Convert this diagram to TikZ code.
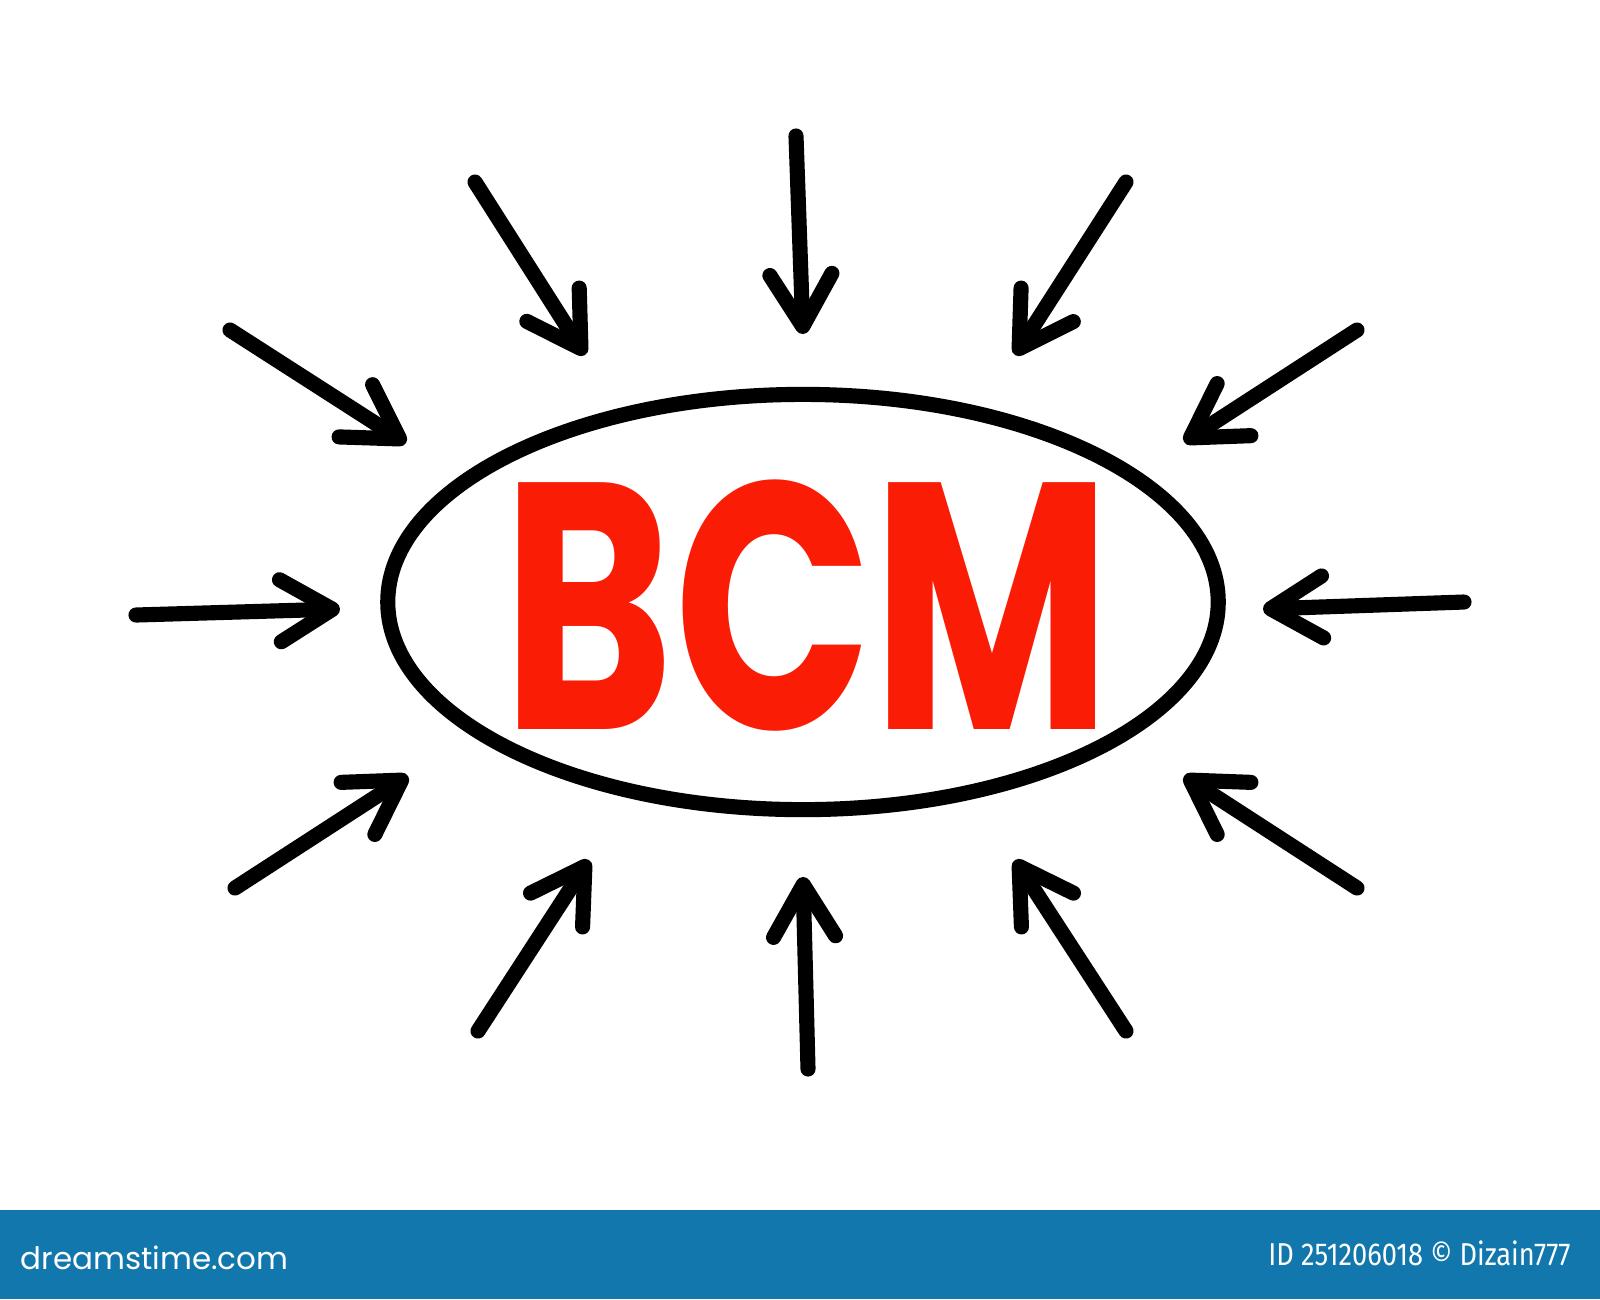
\documentclass[tikz,border=0pt]{standalone}
\usepackage{fontspec}
\usetikzlibrary{arrows.meta,shapes.geometric}
\newfontfamily\bcmfont{Poppins}
\newfontfamily\bannerfont{Fira Sans}
\definecolor{bcmred}{RGB}{250,28,4}
\definecolor{bannerblue}{RGB}{17,119,173}
\tikzset{
  pointer/.style={line width=4.3pt,line cap=round,line join=round,
    -{Straight Barb[length=5.2mm,width=6.2mm,line cap=round,line join=round]}},
  frame/.style={ellipse,draw,line width=4.3pt,minimum width=8.3cm,minimum height=4.15cm,inner sep=0pt},
}
\begin{document}
\begin{tikzpicture}[x=0.01cm,y=-0.01cm]
\useasboundingbox(0,0)rectangle(1600,1299);
% banner
\fill[bannerblue](0,1210)rectangle(1600,1299);
\node[anchor=west,text=white,font=\bcmfont\fontsize{8.8}{11}\selectfont,inner sep=0pt](site) at (20,1258){dreamstime.com};
\node[anchor=east,text=white,font=\bannerfont\fontsize{9}{10}\selectfont,xscale=0.86,inner sep=0pt](credit) at (1571,1253){ID 251206018 © Dizain777};
% ellipse and word
\node[frame](ring) at (803,602){};
\node[text=bcmred,font=\bcmfont\bfseries\fontsize{100}{100}\selectfont,xscale=0.74,inner sep=0pt](word) at (807,606){BCM};
% arrows
\foreach \sx/\sy/\ex/\ey [count=\i] in {796/136/803/334,475/182/585/355,1126/182/1015/355,
  230/330/406/443,1357/330/1184/442,136/615/340/609,1464/602/1263/609,
  235/888/408/776,1357/888/1184/776,478/1031/589/860,808/1069/803/877,1126/1031/1015/860}{
  \coordinate(s\i) at (\sx,\sy);
  \coordinate(e\i) at (\ex,\ey);
  \draw[pointer](s\i)--(e\i);
}
\end{tikzpicture}
\end{document}
